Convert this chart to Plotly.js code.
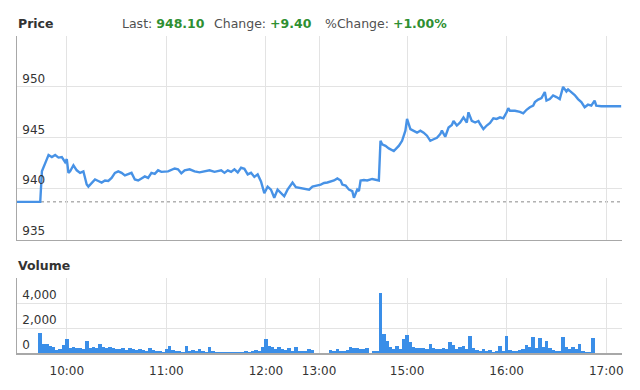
<!DOCTYPE html>
<html>
<head>
<meta charset="utf-8">
<script src="https://cdn.plot.ly/plotly-3.0.1.min.js"></script>
<style>
  html, body { margin: 0; padding: 0; background: #ffffff; }
  #chart { width: 640px; height: 390px; }
</style>
</head>
<body>
<div id="chart"></div>
<script>
// ---------------- data ----------------
const tradeDay = '2024-01-05';

const priceTimes = [
  '09:30','09:44','09:45','09:46','09:48','09:49','09:51','09:53','09:55','09:57','09:59',
  '10:00','10:01','10:02','10:04','10:06','10:08','10:10','10:12','10:13','10:15','10:17','10:19',
  '10:21','10:23','10:25','10:27','10:29','10:31','10:33','10:35','10:37','10:39','10:41','10:43',
  '10:45','10:47','10:49','10:51','10:53','10:55','10:57',
  '11:01','11:05','11:07','11:09','11:11','11:14','11:17','11:20','11:23','11:26','11:29','11:33',
  '11:35','11:37','11:39','11:41','11:43','11:45','11:47','11:49','11:51','11:53','11:55','11:57','11:59',
  '12:01','12:03','12:05','12:07','12:09','12:11','12:13','12:16','12:18','12:21','12:24','12:26','12:28',
  '12:59','13:01','13:03','13:05','13:09','13:11','13:13','13:14','13:16','13:18','13:20','13:21',
  '13:23','13:24','13:25','13:27','13:29',
  '14:39','14:43','14:44','14:45','14:47','14:49','14:52','14:55','14:57','14:59',
  '15:00','15:02','15:04','15:06','15:08','15:10','15:12','15:14','15:16','15:18','15:20','15:21',
  '15:23','15:25','15:27','15:28','15:30','15:32','15:34','15:36','15:37','15:39','15:41','15:43',
  '15:44','15:46','15:48','15:50','15:52','15:54','15:56','15:58',
  '16:00','16:01','16:02','16:05','16:08','16:10','16:12','16:14','16:16','16:17','16:19','16:21',
  '16:23','16:24','16:26','16:28','16:30','16:32','16:34','16:36','16:37','16:39','16:41','16:43',
  '16:45','16:47','16:49','16:51','16:53','16:54','16:57','17:09'
];
const priceValues = [
  938.7,938.7,941.7,942.05,942.9,943.3,943.1,943.3,943.05,943.1,942.6,
  942.9,941.55,941.7,942.3,941.8,941.55,941.7,940.4,940.2,940.6,940.9,940.75,
  940.6,940.8,940.75,941.05,941.55,941.7,941.55,941.3,941.4,941.55,940.9,940.8,
  941.0,941.2,941.05,941.55,941.45,941.8,941.65,
  941.7,941.98,941.9,941.5,941.8,941.9,941.7,941.6,941.7,941.8,941.65,941.8,
  941.55,941.8,941.65,941.9,941.6,942.05,941.95,941.4,941.55,941.15,941.4,940.7,939.55,
  940.2,939.9,939.1,939.9,939.55,939.25,939.9,940.6,940.15,940.05,939.95,939.9,940.2,
  940.3,940.4,940.55,940.6,940.8,941.0,940.8,940.4,940.3,939.9,939.75,939.1,
  939.9,939.75,940.8,940.85,940.8,
  940.95,940.8,944.7,944.35,944.2,943.95,943.7,944.2,944.7,945.7,
  946.85,945.85,945.7,945.5,945.7,945.5,945.2,944.7,944.85,945.0,945.35,945.7,
  945.1,946.0,946.25,946.65,946.2,946.5,947.0,946.5,947.5,946.65,946.5,946.65,
  946.35,945.85,946.2,946.45,946.9,946.85,947.0,946.9,
  947.5,947.9,947.65,947.65,947.55,947.4,947.75,948.0,948.15,948.5,948.75,948.9,
  949.5,948.65,948.8,949.15,949.0,948.8,950.0,949.55,949.75,949.5,949.2,948.8,
  948.5,948.0,948.25,948.15,948.65,948.15,948.1,948.1
];

const volumeTimes = [
  '09:44','09:46','09:48','09:50','09:52','09:54','09:56','09:58',
  '10:00','10:02','10:04','10:06','10:08','10:10','10:12','10:14','10:16','10:18','10:20','10:22',
  '10:24','10:26','10:28','10:30','10:32','10:34','10:36','10:38','10:40','10:42','10:44','10:46',
  '10:48','10:50','10:52','10:54','10:56','10:58',
  '11:00','11:02','11:04','11:06','11:08','11:10','11:12','11:14','11:16','11:18','11:20','11:22',
  '11:24','11:26','11:28','11:30','11:32','11:34','11:36','11:38','11:40','11:42','11:44','11:46',
  '11:48','11:50','11:52','11:54','11:56','11:58',
  '12:00','12:02','12:04','12:06','12:08','12:10','12:12','12:14','12:16','12:18','12:20','12:22',
  '12:24','12:26','12:28',
  '13:07','13:09','13:11','13:13','13:15','13:17','13:19','13:21','13:23','13:25','13:27','13:29',
  '14:40','14:42','14:44','14:46','14:48','14:50','14:52','14:54','14:56','14:58',
  '15:00','15:02','15:04','15:06','15:08','15:10','15:12','15:14','15:16','15:18','15:20','15:22',
  '15:24','15:26','15:28','15:30','15:32','15:34','15:36','15:38','15:40','15:42','15:44','15:46',
  '15:48','15:50','15:52','15:54','15:56','15:58',
  '16:00','16:02','16:04','16:06','16:08','16:10','16:12','16:14','16:16','16:18','16:20','16:22',
  '16:24','16:26','16:28','16:30','16:32','16:34','16:36','16:38','16:40','16:42','16:44','16:46',
  '16:48','16:50','16:52'
];
const volumeValues = [
  1630,750,700,530,500,260,300,660,
  1150,400,450,380,420,350,950,400,480,420,700,450,
  380,500,420,330,300,420,260,400,320,220,300,260,
  200,380,260,200,150,120,
  300,600,250,180,150,120,580,200,250,180,300,150,
  120,520,200,100,80,120,60,80,100,60,100,80,
  150,120,180,250,200,500,
  1150,600,450,350,500,300,250,400,200,520,150,180,
  150,300,250,
  260,150,300,180,150,260,470,420,400,350,300,420,
  150,200,4800,1500,950,500,300,600,350,1130,
  1450,900,450,400,380,420,350,700,400,350,300,400,
  350,870,650,300,450,600,300,1370,400,250,200,300,
  150,250,100,150,580,150,
  1370,250,200,150,250,350,650,450,1260,400,1180,500,
  980,400,250,200,150,1260,450,300,500,350,710,150,
  100,120,1180
];

const lastPrice = 948.10;
const priceChange = 9.40;
const pctChange = 1.00;
const priceTicks = [935, 940, 945, 950, 955];
const volumeTicks = [0, 2000, 4000, 6000];
const timeTicks = ['10:00', '11:00', '12:00', '13:00', '15:00', '16:00', '17:00'];

// ---------------- chart ----------------
const stamp = t => tradeDay + ' ' + t;
const prevClose = +(lastPrice - priceChange).toFixed(2);

const W = 640, H = 390;
const M = { l: 17, r: 18, t: 36, b: 37 };
const plotW = W - M.l - M.r, plotH = H - M.t - M.b;
const px = x => (x - M.l) / plotW;
const py = y => (H - M.b - y) / plotH;

const font = 'DejaVu Sans, Verdana, sans-serif';
const blue = '#4792e6';
const green = '#2f8f32';
const gridColor = '#e3e3e3';
const axisColor = '#a8a8a8';

const breaks = [
  { bounds: [stamp('12:30'), stamp('12:58')] },
  { bounds: [stamp('13:30'), stamp('14:37')] }
];
const xRange = [stamp('09:30'), stamp('17:09:30')];

const priceTrace = {
  type: 'scatter', mode: 'lines',
  x: priceTimes.map(stamp), y: priceValues,
  xaxis: 'x', yaxis: 'y',
  line: { color: blue, width: 2.4 },
  hoverinfo: 'skip'
};
const volumeTrace = {
  type: 'bar',
  x: volumeTimes.map(stamp), y: volumeValues,
  xaxis: 'x2', yaxis: 'y2',
  width: 2.15 * 60 * 1000,
  marker: { color: '#3a8ee8', line: { width: 0 } },
  hoverinfo: 'skip'
};

const baseX = {
  type: 'date', range: xRange, rangebreaks: breaks,
  tickmode: 'array', tickvals: timeTicks.map(stamp), ticktext: timeTicks,
  showgrid: true, gridcolor: gridColor, gridwidth: 1,
  zeroline: false, showline: true, linecolor: axisColor, linewidth: 1.5,
  ticks: '', fixedrange: true
};

const yCommon = {
  tickmode: 'array',
  ticklabelposition: 'inside top', ticklabelstandoff: 4,
  tickfont: { family: font, size: 12, color: '#333333' },
  showgrid: true, gridcolor: gridColor, gridwidth: 1,
  zeroline: false, showline: true, linecolor: axisColor, linewidth: 1.5,
  ticks: '', fixedrange: true
};

const layout = {
  width: W, height: H,
  margin: M,
  paper_bgcolor: '#ffffff', plot_bgcolor: '#ffffff',
  showlegend: false,
  bargap: 0,
  font: { family: font, size: 12, color: '#333333' },
  xaxis: Object.assign({}, baseX, { anchor: 'y', showticklabels: false }),
  xaxis2: Object.assign({}, baseX, {
    anchor: 'y2', matches: 'x', showticklabels: true,
    ticklabelstandoff: 6,
    tickfont: { family: font, size: 12, color: '#333333' }
  }),
  yaxis: Object.assign({}, yCommon, {
    domain: [py(239.5), 1], range: [935, 955], anchor: 'x',
    tickvals: priceTicks,
    ticktext: priceTicks.map(v => v === 955 ? '' : String(v))
  }),
  yaxis2: Object.assign({}, yCommon, {
    domain: [0, py(278.3)], range: [0, 6000], anchor: 'x2',
    tickvals: volumeTicks,
    ticktext: volumeTicks.map(v => v === 6000 ? '' : v.toLocaleString('en-US'))
  }),
  shapes: [
    {
      type: 'line', xref: 'x domain', yref: 'y',
      x0: 0, x1: 1, y0: prevClose, y1: prevClose,
      line: { color: '#8a8a8a', width: 1, dash: 'dot' },
      layer: 'below'
    }
  ],
  annotations: [
    { xref: 'paper', yref: 'paper', x: px(16), y: py(23), xanchor: 'left', yanchor: 'middle',
      text: '<b>Price</b>', showarrow: false, font: { family: font, size: 12.5, color: '#333333' } },
    { xref: 'paper', yref: 'paper', x: px(120), y: py(23), xanchor: 'left', yanchor: 'middle',
      text: 'Last: <b><span style="color:' + green + '">' + lastPrice.toFixed(2) + '</span></b>',
      showarrow: false, font: { family: font, size: 12.5, color: '#505050' } },
    { xref: 'paper', yref: 'paper', x: px(212), y: py(23), xanchor: 'left', yanchor: 'middle',
      text: 'Change: <b><span style="color:' + green + '">+' + priceChange.toFixed(2) + '</span></b>',
      showarrow: false, font: { family: font, size: 12.5, color: '#505050' } },
    { xref: 'paper', yref: 'paper', x: px(323), y: py(23), xanchor: 'left', yanchor: 'middle',
      text: '%Change: <b><span style="color:' + green + '">+' + pctChange.toFixed(2) + '%</span></b>',
      showarrow: false, font: { family: font, size: 12.5, color: '#505050' } },
    { xref: 'paper', yref: 'paper', x: px(16), y: py(265), xanchor: 'left', yanchor: 'middle',
      text: '<b>Volume</b>', showarrow: false, font: { family: font, size: 12.5, color: '#333333' } }
  ]
};

Plotly.newPlot('chart', [priceTrace, volumeTrace], layout, { displayModeBar: false, staticPlot: true });
</script>
</body>
</html>
